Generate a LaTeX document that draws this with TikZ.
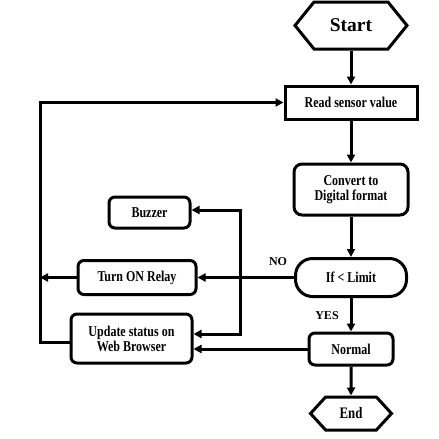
\documentclass[tikz,border=0pt]{standalone}
\usepackage{fontspec}
\setmainfont[FakeStretch=0.8]{Liberation Serif}
\newfontfamily\plainserif{Liberation Serif}
\usetikzlibrary{arrows.meta,shapes.symbols}
\begin{document}
\begin{tikzpicture}[x=1pt,y=1pt,line width=3pt,
 box/.style={draw,align=center,font=\fontsize{15}{15}\selectfont\bfseries,inner sep=0pt},
 rbox/.style={box,rounded corners=6pt},
 hexa/.style={draw,signal,signal to=west and east,inner sep=0pt,font=\bfseries},
 arr/.style={-{Triangle[length=8pt,width=8pt]}},
 lbl/.style={font=\plainserif\fontsize{12}{15}\selectfont\bfseries}]
 \useasboundingbox (0,0) rectangle (439,-439);
 \node[hexa,signal pointer angle=102,minimum width=112pt,minimum height=47pt,font=\plainserif\fontsize{19.5}{22}\selectfont\bfseries] (start) at (351,-25.5) {Start};
 \node[box,minimum width=132pt,minimum height=33pt] (read) at (351,-102.5) {Read sensor value};
 \node[rbox,rounded corners=8pt,minimum width=114pt,minimum height=51pt] (convert) at (351,-189.5) {Convert to\\Digital format};
 \node[rbox,rounded corners=17pt,minimum width=111pt,minimum height=38pt] (limit) at (351,-277.5) {If < Limit};
 \node[rbox,minimum width=84pt,minimum height=32pt] (normal) at (351,-349) {Normal};
 \node[hexa,signal pointer angle=95,minimum width=81pt,minimum height=33pt,font=\fontsize{16}{16}\selectfont\bfseries] (end) at (351,-413.5) {End};
 \node[rbox,minimum width=81pt,minimum height=31pt] (buzzer) at (149.5,-212.5) {Buzzer};
 \node[rbox,minimum width=118pt,minimum height=34pt] (relay) at (137,-277.5) {Turn ON Relay};
 \node[rbox,minimum width=121pt,minimum height=49pt] (update) at (131.5,-338.5) {Update status on\\Web Browser};
 \node[lbl] (no) at (278,-262) {NO};
 \node[lbl] (yes) at (327,-316) {YES};
 \coordinate (j) at (240,-277.5);
 \coordinate (lp) at (40,-102.5);
 \draw[arr] (start) -- (read);
 \draw[arr] (read) -- (convert);
 \draw[arr] (convert) -- (limit);
 \draw[arr] (limit) -- (normal);
 \draw[arr] (normal) -- (end);
 \draw[arr] (limit.west) -- (relay.east);
 \draw[arr] (j) |- ([yshift=2.5pt]buzzer.east);
 \draw[arr] (j) |- ([yshift=4.5pt]update.east);
 \draw[arr] (normal.west) -- (normal.west -| update.east);
 \draw[arr] (relay.west) -- (relay.west -| lp);
 \draw[arr] ([yshift=-3.5pt]update.west) -| (lp) -- (read.west);
\end{tikzpicture}
\end{document}
